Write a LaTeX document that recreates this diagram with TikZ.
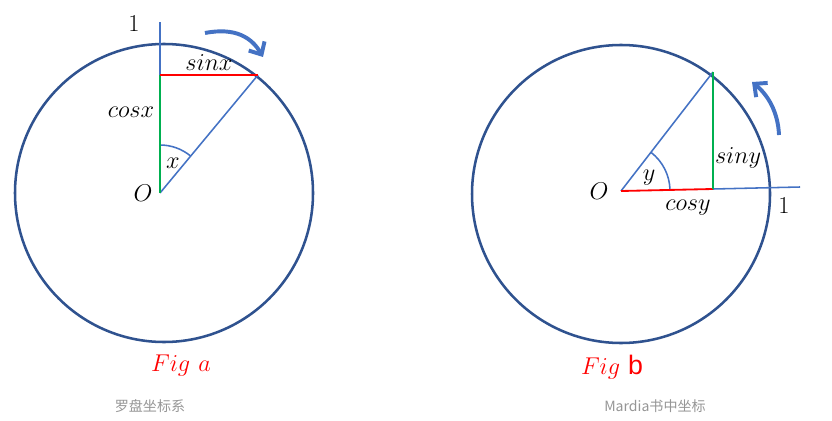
\documentclass[tikz,border=0pt]{standalone}
\usepackage{fontspec}
\newfontfamily\cjk{Noto Sans CJK SC}
\usetikzlibrary{arrows.meta}
\definecolor{circblue}{RGB}{47,82,143}
\definecolor{lineblue}{RGB}{68,114,196}
\definecolor{figred}{RGB}{255,0,0}
\definecolor{figgreen}{RGB}{0,176,80}
\definecolor{capgray}{RGB}{150,150,150}
\tikzset{
  unitcircle/.style={draw=circblue, line width=1.8pt},
  axisline/.style={draw=lineblue, line width=1.1pt},
  sinline/.style={draw=figred, line width=1.3pt},
  cosline/.style={draw=figgreen, line width=1.3pt},
  turnarrow/.style={draw=lineblue, line width=2.8pt, -{Straight Barb[length=7pt,width=13pt]}},
  mathlabel/.style={inner sep=0pt, font=\fontsize{19}{22}\selectfont},
  caption/.style={inner sep=0pt, text=capgray, font=\cjk\fontsize{10}{12}\selectfont}
}
\begin{document}
\begin{tikzpicture}[x=0.025cm, y=-0.025cm]
\path[use as bounding box, fill=white] (0,0) rectangle (832,420);
% Fig a
\begin{scope}
\coordinate (Oa) at (160,193);
\coordinate (Pa) at (258,75);
\coordinate (Fa) at (160,75);
\coordinate (Ta) at (160,22);
\draw[unitcircle] (164,193) circle[radius=149];
\draw[axisline] (Fa)--(Ta);
\draw[axisline] (Oa)--(Pa);
\draw[axisline] (160,145) arc[start angle=-90, end angle=-50.3, radius=48];
\draw[cosline] (Oa)--(Fa);
\draw[sinline] (Fa)--(Pa);
\draw[turnarrow] (205,33) .. controls (236,27) and (252,38) .. (263,57);
\node[mathlabel] (onea) at (134,24) {$1$};
\node[mathlabel] (sina) at (209,63) {$sinx$};
\node[mathlabel] (cosa) at (131,112) {$cosx$};
\node[mathlabel] (anga) at (173,163) {$x$};
\node[mathlabel] (orga) at (143,193) {$O$};
\node[mathlabel, text=figred] (figa) at (181,366) {$Fig\ a$};
\node[caption] (capa) at (150,406) {罗盘坐标系};
\end{scope}
% Fig b
\begin{scope}
\coordinate (Ob) at (621,191);
\coordinate (Pb) at (713,72);
\coordinate (Fb) at (713,189);
\coordinate (Tb) at (800,187);
\draw[unitcircle] (621,194) circle[radius=149];
\draw[axisline] (Fb)--(Tb);
\draw[axisline] (Ob)--(Pb);
\draw[axisline] (670,190) arc[start angle=-1.3, end angle=-52.3, radius=49];
\draw[sinline] (Ob)--(Fb);
\draw[cosline] (Fb)--(Pb);
\draw[turnarrow] (779,135) .. controls (778,112) and (768,95) .. (752,82);
\node[mathlabel] (oneb) at (784,206) {$1$};
\node[mathlabel] (sinb) at (738,158) {$siny$};
\node[mathlabel] (cosb) at (688,208) {$cosy$};
\node[mathlabel] (angb) at (649,178) {$y$};
\node[mathlabel] (orgb) at (599,191) {$O$};
\node[mathlabel, text=figred] (figb) at (612,367) {$Fig$\ \fontspec{Liberation Sans}b};
\node[caption] (capb) at (655,406) {Mardia书中坐标};
\end{scope}
\end{tikzpicture}
\end{document}
